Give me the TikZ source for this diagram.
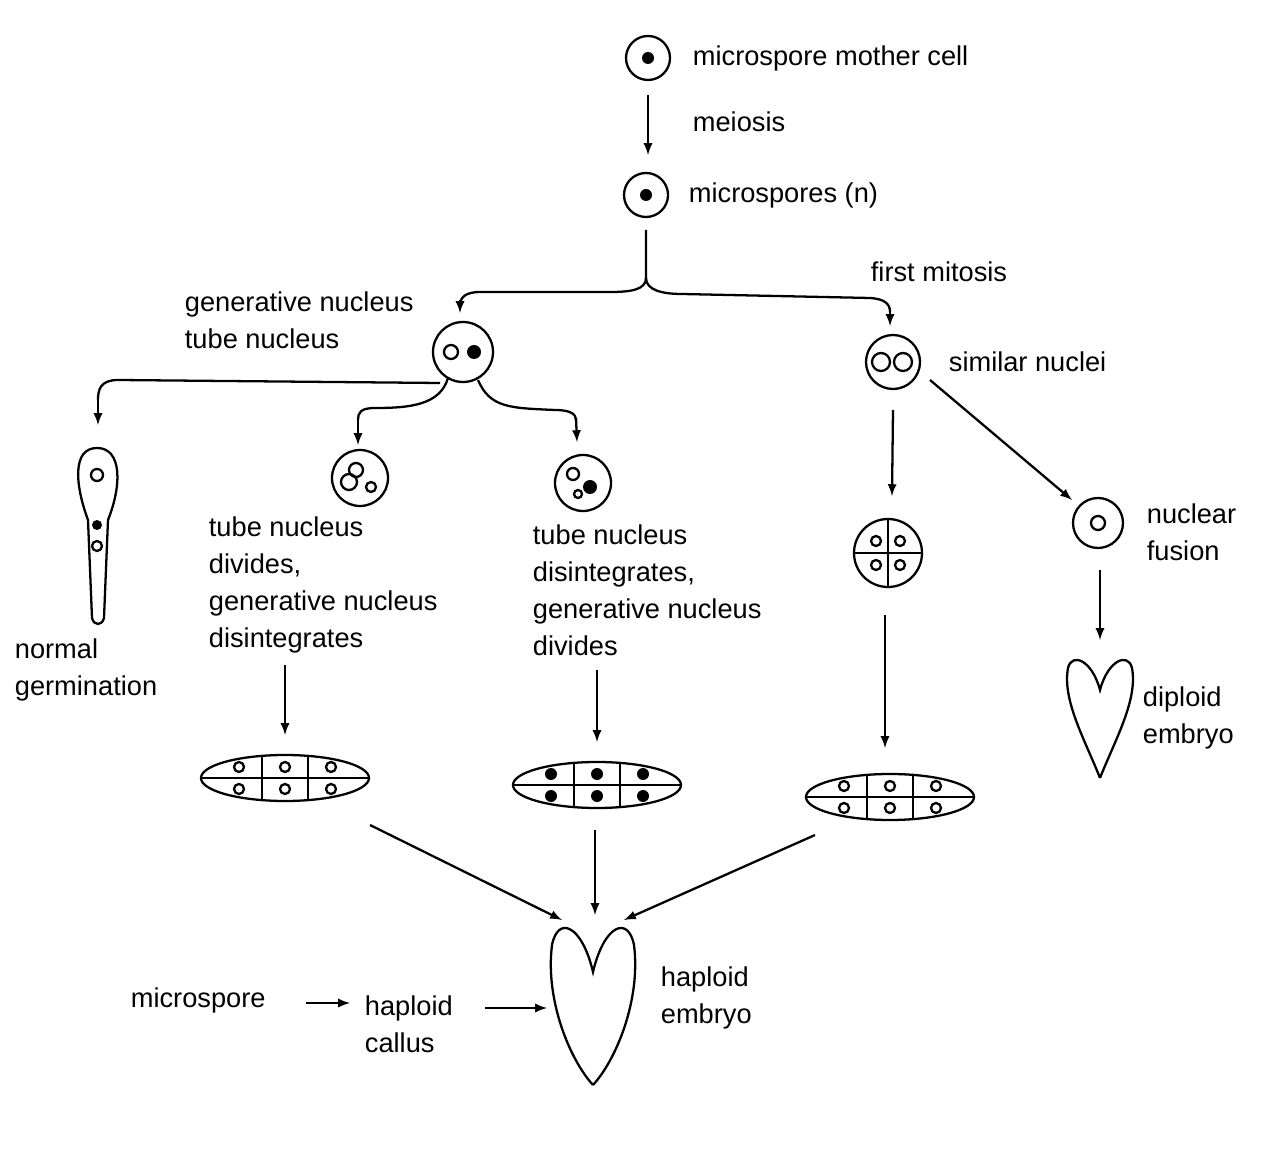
\documentclass[tikz,border=0pt]{standalone}
\usepackage{fontspec}
\setmainfont{Liberation Sans}
\begin{document}
\begin{tikzpicture}[x=0.02cm, y=-0.02cm, line width=1.3pt,
    lbl/.style={align=left, anchor=west, font=\fontsize{15.5}{21}\selectfont, inner sep=1pt},
    arr/.style={-latex}]

    \useasboundingbox (0,0) rectangle (1288,1168);

    % Cells
    \coordinate (mother) at (648,58);
    \draw (mother) circle[radius=22]; \fill (mother) circle[radius=6];
    \coordinate (spore) at (646,195);
    \draw (spore) circle[radius=22]; \fill (spore) circle[radius=6];
    \coordinate (gencell) at (463,352);
    \draw (gencell) circle[radius=30];
    \draw (451,352) circle[radius=7]; \fill (474,352) circle[radius=7];
    \coordinate (simcell) at (893,362);
    \draw (simcell) circle[radius=27];
    \draw (881,362) circle[radius=9]; \draw (903,362) circle[radius=9];
    \coordinate (divcell) at (360,478);
    \draw (divcell) circle[radius=28];
    \draw (349,482) circle[radius=8]; \draw (356,470) circle[radius=7]; \draw (371,487) circle[radius=5];
    \coordinate (discell) at (583,483);
    \draw (discell) circle[radius=28];
    \draw (573,474) circle[radius=6]; \fill (590,487) circle[radius=7]; \draw (578,494) circle[radius=4];
    \coordinate (quadcell) at (888,553);
    \draw (quadcell) circle[radius=34];
    \draw (854,553) -- (922,553); \draw (888,519) -- (888,587);
    \foreach \dx/\dy in {-12/-12, 12/-12, -12/12, 12/12}
        \draw (888+\dx,553+\dy) circle[radius=5];
    \coordinate (fuscell) at (1098,523);
    \draw (fuscell) circle[radius=25]; \draw (fuscell) circle[radius=7];

    % Pollen tube
    \draw (97,448) .. controls (72,448) and (75,485) .. (88,520)
        -- (92,618) .. controls (94,626) and (102,626) .. (104,618)
        -- (108,520) .. controls (122,485) and (122,448) .. (97,448);
    \draw (97,475) circle[radius=6];
    \fill (97,525) circle[radius=5]; \draw (97,546) circle[radius=5];

    % Pro-embryos
    \foreach \cx/\cy/\f in {285/778/0, 597/785/1, 890/797/0} {
        \draw (\cx,\cy) ellipse[x radius=84, y radius=23];
        \draw (\cx-84,\cy) -- (\cx+84,\cy);
        \draw (\cx-23,\cy-22) -- (\cx-23,\cy+22);
        \draw (\cx+23,\cy-22) -- (\cx+23,\cy+22);
        \foreach \dx in {-46,0,46} \foreach \dy in {-11,11} {
            \ifnum\f=1 \fill (\cx+\dx,\cy+\dy) circle[radius=6];
            \else \draw (\cx+\dx,\cy+\dy) circle[radius=5]; \fi
        }
    }

    % Embryos
    \draw (1100,778) .. controls (1085,740) and (1062,700) .. (1068,668)
        .. controls (1072,652) and (1092,660) .. (1100,690)
        .. controls (1108,660) and (1128,652) .. (1132,668)
        .. controls (1138,700) and (1115,740) .. (1100,778);
    \draw (593,1085) .. controls (570,1060) and (545,1000) .. (552,945)
        .. controls (558,915) and (582,925) .. (593,972)
        .. controls (604,925) and (628,915) .. (634,945)
        .. controls (641,1000) and (616,1060) .. (593,1085);

    % Texts
    \node[lbl] (tmother) at (690,58) {microspore mother cell};
    \node[lbl] (tmeiosis) at (690,122) {meiosis};
    \node[lbl] (tspore) at (686,195) {microspores (n)};
    \node[lbl] (tmitosis) at (868,272) {first mitosis};
    \node[lbl, text depth=0pt] (tgen) at (182,320) {generative nucleus\\tube nucleus};
    \node[lbl] (tsim) at (946,362) {similar nuclei};
    \node[lbl] (tnormal) at (12,670) {normal\\germination};
    \node[lbl] (tdiv) at (206,585) {tube nucleus\\divides,\\generative nucleus\\disintegrates};
    \node[lbl] (tdis) at (530,590) {tube nucleus\\disintegrates,\\generative nucleus\\divides};
    \node[lbl] (tfus) at (1144,532) {nuclear\\fusion};
    \node[lbl] (tdip) at (1140,718) {diploid\\embryo};
    \node[lbl] (tmicro) at (128,1000) {microspore};
    \node[lbl] (tcallus) at (362,1024) {haploid\\callus};
    \node[lbl] (themb) at (658,998) {haploid\\embryo};

    % Arrows
    \draw[arr] (648,95) -- (648,155);
    \draw (646,230) -- (646,278) .. controls (646,290) and (630,292) .. (610,292) -- (480,292)
        .. controls (465,292) and (460,298) .. (460,305);
    \draw[arr] (460,300) -- (460,313);
    \draw (646,278) .. controls (646,290) and (662,294) .. (682,294) -- (870,298)
        .. controls (885,299) and (890,304) .. (890,312);
    \draw[arr] (890,308) -- (890,326);
    \draw (440,383) -- (118,380) .. controls (100,380) and (98,390) .. (98,400);
    \draw[arr] (98,398) -- (98,425);
    \draw (448,378) .. controls (440,405) and (410,408) .. (375,408)
        .. controls (360,408) and (358,413) .. (358,420);
    \draw[arr] (358,418) -- (358,445);
    \draw (478,380) .. controls (490,408) and (510,408) .. (555,410)
        .. controls (572,410) and (576,415) .. (576,420);
    \draw[arr] (576,418) -- (577,442);
    \draw[arr] (893,410) -- (892,496);
    \draw[arr] (930,380) -- (1072,500);
    \draw[arr] (1100,570) -- (1100,640);
    \draw[arr] (285,665) -- (285,735);
    \draw[arr] (597,670) -- (597,742);
    \draw[arr] (885,615) -- (885,748);
    \draw[arr] (370,825) -- (562,920);
    \draw[arr] (595,830) -- (595,915);
    \draw[arr] (815,835) -- (624,920);
    \draw[arr] (306,1003) -- (350,1003);
    \draw[arr] (485,1008) -- (547,1008);
\end{tikzpicture}
\end{document}
